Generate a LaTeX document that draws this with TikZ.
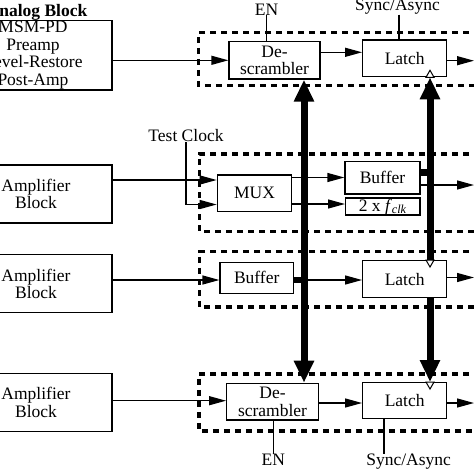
\documentclass[tikz,border=0pt]{standalone}
\usepackage{fontspec}
\setmainfont{Liberation Serif}
\usetikzlibrary{arrows.meta, positioning, calc}
\newcommand\txt{\fontsize{17.5}{17.5}\selectfont}
\tikzset{bushead/.tip={Triangle[length=22pt, width=19pt]}}

\begin{document}
\begin{tikzpicture}[x=1pt, y=-1pt,
    every node/.style={font=\txt, inner sep=0pt, align=center},
    blk/.style={draw, fill=white, line width=1.3pt},
    grp/.style={line width=3.5pt, dash pattern=on 6pt off 5pt},
    wire/.style={line width=1.3pt},
    sig/.style={wire, -{Triangle[length=17pt, width=9pt]}},
    bus/.style={line width=7pt},
    clk/.style={draw, fill=white, line width=1pt}]
    \useasboundingbox (0,0) rectangle (474,474);
    % dotted frames of the four channels
    \draw[grp] (480,32.3) -- (198.5,32.3) -- (198.5,85.5) -- (480,85.5);
    \draw[grp] (480,154) -- (199.3,154) -- (199.3,231.5) -- (480,231.5);
    \draw[grp] (480,251.5) -- (199.3,251.5) -- (199.3,307) -- (480,307);
    \draw[grp] (480,373.8) -- (199,373.8) -- (199,431) -- (480,431);
    % front end blocks
    \node[font=\txt\bfseries] (analbl) at (37,12.7) {Analog Block};
    \node[blk, minimum width=158pt, minimum height=69.3pt] (ana) at (33,55.3) {MSM-PD\\Preamp\\Level-Restore\\Post-Amp};
    \node[blk, minimum width=152pt, minimum height=58pt] (amp2) at (36,193.9) {Amplifier\\Block};
    \node[blk, minimum width=152pt, minimum height=58pt] (amp3) at (36,283.7) {Amplifier\\Block};
    \node[blk, minimum width=152pt, minimum height=58pt] (amp4) at (36,402.5) {Amplifier\\Block};
    % channel blocks
    \node[blk, minimum width=91pt, minimum height=37.3pt] (des1) at (274.5,60.3) {De-\\scrambler};
    \node[blk, minimum width=84pt, minimum height=36.7pt] (lat1) at (404.7,58.3) {Latch};
    \node[blk, minimum width=74.4pt, minimum height=36.7pt] (mux) at (254.5,193.3) {MUX};
    \node[blk, minimum width=75pt, minimum height=32.3pt] (buf2) at (382.5,177.8) {Buffer};
    \node[blk, minimum width=74.3pt, minimum height=17pt, text height=12pt, text depth=3pt] (clk2) at (382.8,206.5) {2 x \textit{f}\textsubscript{\textit{clk}}};
    \node[blk, minimum width=73.3pt, minimum height=31pt] (buf3) at (256.7,277.8) {Buffer};
    \node[blk, minimum width=84pt, minimum height=37pt] (lat3) at (404.7,279.2) {Latch};
    \node[blk, minimum width=91.6pt, minimum height=36.7pt] (des4) at (272.5,401.7) {De-\\scrambler};
    \node[blk, minimum width=84pt, minimum height=35.6pt] (lat4) at (404.7,400.5) {Latch};
    % control labels
    \node (en1) at (266.5,9.3) {EN};
    \node (sy1) at (397.5,6.7) {Sync/Async};
    \node (tclk) at (186,136) {Test Clock};
    \node (en4) at (273.3,460) {EN};
    \node (sy4) at (408.6,461.7) {Sync/Async};
    \coordinate (o1) at (474,60.7);
    \coordinate (o2) at (474,185);
    \coordinate (o3) at (474,277.5);
    \coordinate (o4) at (474,403);
    \coordinate (busL) at (304,0);
    \coordinate (busR) at (430,0);
    % row 1
    \draw[sig] (ana.east |- des1.west) -- (des1.west);
    \draw[sig] (des1.east |- 0,52.3) -- (lat1.west |- 0,52.3);
    \draw[sig] (lat1.east |- o1) -- (o1);
    \draw[wire] (en1.south) -- (en1.south |- des1.north);
    \draw[wire] (399,0 |- sy1.south) -- (399,0 |- lat1.north);
    % row 2
    \draw[sig] (amp2.east |- 0,180) -- (mux.west |- 0,180);
    \draw[sig] (tclk.south) |- (mux.west |- 0,204.5);
    \draw[sig] (mux.east |- 0,177.5) -- (buf2.west |- 0,177.5);
    \draw[sig] (mux.east |- 0,204) -- (clk2.west |- 0,204);
    \draw[sig] (buf2.east |- o2) -- (o2);
    \draw[bus] (buf2.east |- 0,172) -- (busR |- 0,172);
    % row 3
    \draw[sig] (amp3.east |- 0,280) -- (buf3.west |- 0,280);
    \draw[sig] (buf3.east |- 0,280) -- (lat3.west |- 0,280);
    \draw[line width=6pt] (buf3.east |- 0,280) -- (busL |- 0,280);
    \draw[sig] (lat3.east |- o3) -- (o3);
    % row 4
    \draw[sig] (amp4.east |- 0,400.7) -- (des4.west |- 0,400.7);
    \draw[sig] (des4.east |- o4) -- (lat4.west |- o4);
    \draw[sig] (lat4.east |- o4) -- (o4);
    \draw[wire] (en4.north) -- (en4.north |- des4.south);
    \draw[wire] (384,0 |- lat4.south) -- (384,0 |- sy4.north);
    % buses
    \draw[bus, bushead-bushead] (busL |- des1.south) -- (busL |- des4.north);
    \draw[bus, -bushead] (busR |- lat3.north) -- (busR |- lat1.south);
    \draw[bus, -bushead] (busR |- lat3.south) -- (busR |- lat4.north);
    % clock marks
    \draw[clk] ($(busR |- lat1.south)+(-4,0)$) -- ++(4,-7) -- ++(4,7) -- cycle;
    \draw[clk] ($(busR |- lat3.north)+(-4,0)$) -- ++(4,7) -- ++(4,-7) -- cycle;
    \draw[clk] ($(busR |- lat4.north)+(-4,0)$) -- ++(4,7) -- ++(4,-7) -- cycle;
\end{tikzpicture}
\end{document}
